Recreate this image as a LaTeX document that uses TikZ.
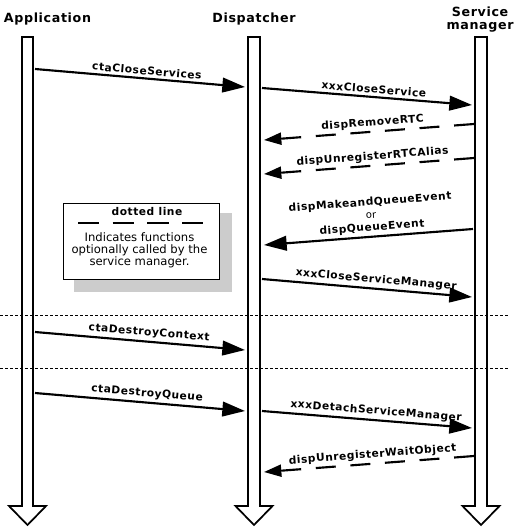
\documentclass[tikz,border=0pt]{standalone}
\usepackage{fontspec}
\setmainfont{DejaVu Sans}
\newfontfamily\spacedfont[LetterSpace=5]{DejaVu Sans}
\usetikzlibrary{arrows.meta}

\tikzset{
  lifeline/.style={draw, line width=1.3pt, fill=white},
  header/.style={font=\spacedfont\bfseries\fontsize{9.5}{9.75}\selectfont, align=center, inner sep=0pt},
  msg/.style={line width=1.6pt, -{Triangle[length=17pt,width=11pt]}},
  optmsg/.style={line width=1.6pt, dash pattern=on 15pt off 11pt, -{Triangle[length=13pt,width=9pt]}},
  msglabel/.style={font=\spacedfont\bfseries\fontsize{8}{9.5}\selectfont, align=center, sloped, above, inner sep=2pt},
  separator/.style={line width=0.75pt, dash pattern=on 2.25pt off 1.5pt},
}

\begin{document}
\begin{tikzpicture}[x=0.75pt,y=-0.75pt]
  \useasboundingbox (0,0) rectangle (516,527);

  % lifelines
  \node (app) [header, anchor=base] at (47.5,23) {Application};
  \node (disp) [header, anchor=base] at (254,23) {Dispatcher};
  \node (srv) [header] at (480,20) {Service\\manager};
  \foreach \x/\w in {27.5/5.5, 254/6, 481/6}
    \draw[lifeline] (\x-\w,37) -- (\x+\w,37) -- (\x+\w,506) -- (\x+18.5,506)
      -- (\x,525) -- (\x-18.5,506) -- (\x-\w,506) -- cycle;

  % legend
  \fill[gray!40] (74,213) rectangle (232,292);
  \node (legend) [draw, line width=0.75pt, fill=white, minimum width=117pt, minimum height=57pt, inner sep=0pt] at (141.5,241.5) {};
  \node (legtitle) [font=\spacedfont\bfseries\fontsize{8}{9.5}\selectfont, inner sep=0pt] at (147,212) {dotted line};
  \coordinate (dashA) at (78,223);
  \coordinate (dashB) at (203,223);
  \draw[line width=2.2pt, dash pattern=on 16pt off 10pt] (dashA) -- (dashB);
  \node (legtext) [font=\fontsize{8.7}{9}\selectfont, align=center, inner sep=0pt] at (139.5,250)
    {Indicates functions\\optionally called by the\\service manager.};

  % separators
  \draw[separator] (0,315) -- (510,315);
  \draw[separator] (0,368) -- (510,368);

  % message end points
  \coordinate (m1s) at (35,69);   \coordinate (m1e) at (245,87);
  \coordinate (m2s) at (262,88);  \coordinate (m2e) at (472,105);
  \coordinate (m3s) at (474,124); \coordinate (m3e) at (264,140);
  \coordinate (m4s) at (474,158); \coordinate (m4e) at (264,174);
  \coordinate (m5s) at (473,229); \coordinate (m5e) at (264,245);
  \coordinate (m6s) at (262,279); \coordinate (m6e) at (472,297);
  \coordinate (m7s) at (35,332);  \coordinate (m7e) at (245,350);
  \coordinate (m8s) at (35,393);  \coordinate (m8e) at (245,411);
  \coordinate (m9s) at (262,411); \coordinate (m9e) at (472,428);
  \coordinate (m10s) at (474,456); \coordinate (m10e) at (264,472);

  % messages
  \draw[msg] (m1s) -- (m1e) node[msglabel, pos=0.53] {ctaCloseServices};
  \draw[msg] (m2s) -- (m2e) node[msglabel, pos=0.53] {xxxCloseService};
  \draw[optmsg] (m3s) -- (m3e) node[msglabel, pos=0.48] {dispRemoveRTC};
  \draw[optmsg] (m4s) -- (m4e) node[msglabel, pos=0.48] {dispUnregisterRTCAlias};
  \draw[msg] (m5s) -- (m5e) node[msglabel, pos=0.48]
    {dispMakeandQueueEvent\\{\normalfont\fontsize{7.5}{9.5}\selectfont or}\\dispQueueEvent};
  \draw[msg] (m6s) -- (m6e) node[msglabel, pos=0.54] {xxxCloseServiceManager};
  \draw[msg] (m7s) -- (m7e) node[msglabel, pos=0.54] {ctaDestroyContext};
  \draw[msg] (m8s) -- (m8e) node[msglabel, pos=0.53] {ctaDestroyQueue};
  \draw[msg] (m9s) -- (m9e) node[msglabel, pos=0.54] {xxxDetachServiceManager};
  \draw[optmsg] (m10s) -- (m10e) node[msglabel, pos=0.48] {dispUnregisterWaitObject};
\end{tikzpicture}
\end{document}
